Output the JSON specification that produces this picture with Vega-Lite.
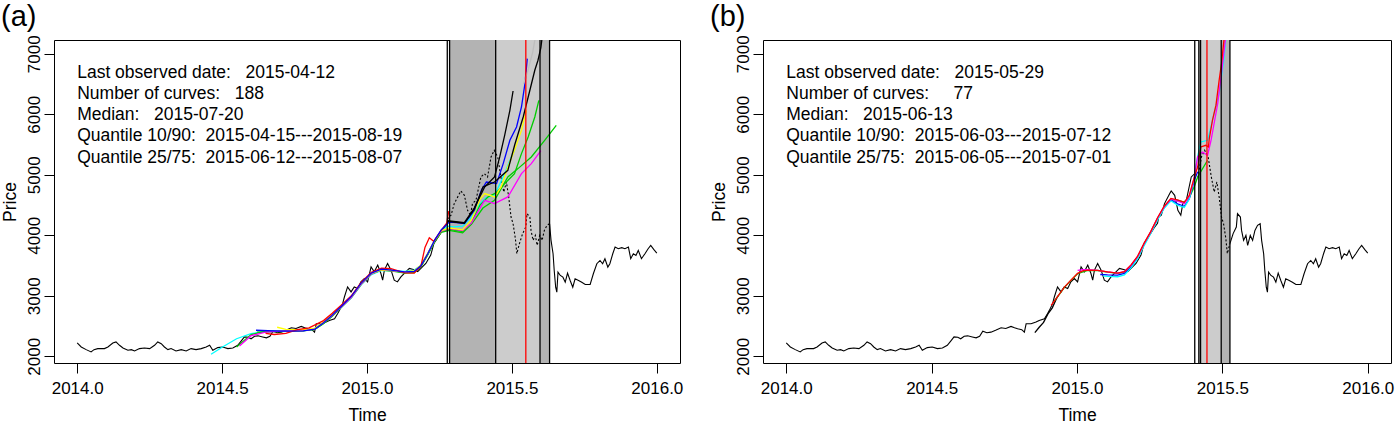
{
"$schema":"https://vega.github.io/schema/vega-lite/v6.json",
"padding":{"left":0,"top":2,"right":0,"bottom":0},
"background":"white",
"bounds":"flush",
"spacing":83,
"config":{"font":"Liberation Sans","view":{"stroke":"black","strokeWidth":1},
"axis":{"grid":false,"domain":false,"tickColor":"black","tickSize":10,"labelColor":"black","labelFontSize":17,"titleFontSize":17.5,"titleFontWeight":"normal","titleColor":"black","labelFont":"Liberation Sans","titleFont":"Liberation Sans","labelFlush":false,"labelOverlap":false}},
"datasets":{
"price":[{"t":2014.000,"p":2220},{"t":2014.014,"p":2154},{"t":2014.031,"p":2110},{"t":2014.048,"p":2072},{"t":2014.058,"p":2110},{"t":2014.071,"p":2127},{"t":2014.094,"p":2127},{"t":2014.106,"p":2154},{"t":2014.123,"p":2220},{"t":2014.134,"p":2237},{"t":2014.146,"p":2182},{"t":2014.158,"p":2138},{"t":2014.175,"p":2099},{"t":2014.187,"p":2110},{"t":2014.198,"p":2088},{"t":2014.215,"p":2127},{"t":2014.232,"p":2138},{"t":2014.250,"p":2127},{"t":2014.267,"p":2182},{"t":2014.278,"p":2237},{"t":2014.290,"p":2209},{"t":2014.301,"p":2154},{"t":2014.313,"p":2110},{"t":2014.324,"p":2127},{"t":2014.341,"p":2088},{"t":2014.359,"p":2110},{"t":2014.376,"p":2088},{"t":2014.393,"p":2127},{"t":2014.410,"p":2110},{"t":2014.428,"p":2127},{"t":2014.445,"p":2154},{"t":2014.457,"p":2182},{"t":2014.468,"p":2099},{"t":2014.485,"p":2143},{"t":2014.502,"p":2154},{"t":2014.520,"p":2127},{"t":2014.537,"p":2138},{"t":2014.554,"p":2182},{"t":2014.567,"p":2260},{"t":2014.577,"p":2320},{"t":2014.590,"p":2316},{"t":2014.600,"p":2290},{"t":2014.612,"p":2330},{"t":2014.624,"p":2338},{"t":2014.640,"p":2320},{"t":2014.653,"p":2305},{"t":2014.665,"p":2330},{"t":2014.676,"p":2415},{"t":2014.690,"p":2390},{"t":2014.704,"p":2399},{"t":2014.720,"p":2430},{"t":2014.739,"p":2471},{"t":2014.755,"p":2460},{"t":2014.773,"p":2493},{"t":2014.785,"p":2470},{"t":2014.796,"p":2454},{"t":2014.810,"p":2440},{"t":2014.819,"p":2399},{"t":2014.825,"p":2537},{"t":2014.842,"p":2537},{"t":2014.859,"p":2565},{"t":2014.870,"p":2593},{"t":2014.888,"p":2620},{"t":2014.899,"p":2706},{"t":2014.905,"p":2759},{"t":2014.916,"p":2870},{"t":2014.922,"p":2980},{"t":2014.933,"p":3147},{"t":2014.945,"p":3064},{"t":2014.956,"p":3147},{"t":2014.968,"p":3119},{"t":2014.979,"p":3230},{"t":2014.991,"p":3285},{"t":2015.002,"p":3230},{"t":2015.014,"p":3479},{"t":2015.025,"p":3396},{"t":2015.037,"p":3507},{"t":2015.048,"p":3368},{"t":2015.054,"p":3258},{"t":2015.060,"p":3424},{"t":2015.071,"p":3535},{"t":2015.083,"p":3424},{"t":2015.094,"p":3258},{"t":2015.105,"p":3230},{"t":2015.117,"p":3313},{"t":2015.134,"p":3396},{"t":2015.146,"p":3452},{"t":2015.163,"p":3430},{"t":2015.175,"p":3400},{"t":2015.186,"p":3452},{"t":2015.203,"p":3535},{"t":2015.220,"p":3673},{"t":2015.231,"p":3867},{"t":2015.243,"p":3950},{"t":2015.254,"p":4033},{"t":2015.265,"p":4120},{"t":2015.277,"p":4199},{"t":2015.281,"p":4302},{"t":2015.290,"p":4331},{"t":2015.301,"p":4524},{"t":2015.319,"p":4689},{"t":2015.324,"p":4733},{"t":2015.336,"p":4661},{"t":2015.347,"p":4413},{"t":2015.357,"p":4331},{"t":2015.364,"p":4524},{"t":2015.376,"p":4579},{"t":2015.393,"p":4964},{"t":2015.405,"p":5019},{"t":2015.416,"p":4964},{"t":2015.428,"p":5295},{"t":2015.439,"p":5405},{"t":2015.451,"p":5295},{"t":2015.462,"p":4964},{"t":2015.472,"p":4715},{"t":2015.481,"p":4881},{"t":2015.489,"p":4632},{"t":2015.497,"p":4302},{"t":2015.504,"p":4192},{"t":2015.512,"p":3944},{"t":2015.517,"p":3697},{"t":2015.526,"p":3863},{"t":2015.537,"p":4028},{"t":2015.548,"p":4137},{"t":2015.552,"p":4357},{"t":2015.562,"p":4301},{"t":2015.566,"p":4081},{"t":2015.573,"p":3916},{"t":2015.581,"p":3998},{"t":2015.587,"p":3833},{"t":2015.596,"p":3998},{"t":2015.604,"p":3916},{"t":2015.612,"p":4081},{"t":2015.621,"p":4164},{"t":2015.630,"p":4192},{"t":2015.635,"p":3916},{"t":2015.642,"p":3695},{"t":2015.646,"p":3419},{"t":2015.651,"p":3142},{"t":2015.655,"p":3060},{"t":2015.659,"p":3391},{"t":2015.667,"p":3336},{"t":2015.676,"p":3308},{"t":2015.684,"p":3225},{"t":2015.692,"p":3374},{"t":2015.701,"p":3253},{"t":2015.710,"p":3142},{"t":2015.718,"p":3281},{"t":2015.730,"p":3253},{"t":2015.741,"p":3225},{"t":2015.753,"p":3187},{"t":2015.770,"p":3187},{"t":2015.781,"p":3364},{"t":2015.793,"p":3530},{"t":2015.804,"p":3584},{"t":2015.813,"p":3530},{"t":2015.821,"p":3613},{"t":2015.831,"p":3474},{"t":2015.838,"p":3530},{"t":2015.848,"p":3695},{"t":2015.856,"p":3805},{"t":2015.867,"p":3778},{"t":2015.879,"p":3795},{"t":2015.890,"p":3778},{"t":2015.902,"p":3805},{"t":2015.910,"p":3613},{"t":2015.919,"p":3695},{"t":2015.928,"p":3667},{"t":2015.936,"p":3750},{"t":2015.947,"p":3613},{"t":2015.959,"p":3695},{"t":2015.970,"p":3778},{"t":2015.979,"p":3833},{"t":2015.990,"p":3762},{"t":2016.000,"p":3705}],
"bands":[{"panel":"a","kind":"q1090","t":2015.285,"t2":2015.630},{"panel":"a","kind":"q2575","t":2015.444,"t2":2015.597},{"panel":"b","kind":"q1090","t":2015.419,"t2":2015.526},{"panel":"b","kind":"q2575","t":2015.425,"t2":2015.496}],
"lines":[{"panel":"a","kind":"last","t":2015.277},{"panel":"a","kind":"q","t":2015.285},{"panel":"a","kind":"q","t":2015.444},{"panel":"a","kind":"q","t":2015.597},{"panel":"a","kind":"q","t":2015.630},{"panel":"a","kind":"median","t":2015.548},{"panel":"b","kind":"last","t":2015.405},{"panel":"b","kind":"q","t":2015.419},{"panel":"b","kind":"q","t":2015.425},{"panel":"b","kind":"q","t":2015.496},{"panel":"b","kind":"q","t":2015.526},{"panel":"b","kind":"median","t":2015.447}],
"notes":[{"panel":"a","t":2014,"p":6607,"label":"Last observed date:\u00a0\u00a0\u00a02015-04-12"},{"panel":"a","t":2014,"p":6260,"label":"Number of curves:\u00a0\u00a0\u00a0188"},{"panel":"a","t":2014,"p":5909,"label":"Median:\u00a0\u00a0\u00a02015-07-20"},{"panel":"a","t":2014,"p":5554,"label":"Quantile 10/90:\u00a0\u00a02015-04-15---2015-08-19"},{"panel":"a","t":2014,"p":5198,"label":"Quantile 25/75:\u00a0\u00a02015-06-12---2015-08-07"},{"panel":"b","t":2014,"p":6607,"label":"Last observed date:\u00a0\u00a0\u00a02015-05-29"},{"panel":"b","t":2014,"p":6260,"label":"Number of curves:\u00a0\u00a0\u00a0\u00a0\u00a077"},{"panel":"b","t":2014,"p":5909,"label":"Median:\u00a0\u00a0\u00a02015-06-13"},{"panel":"b","t":2014,"p":5554,"label":"Quantile 10/90:\u00a0\u00a02015-06-03---2015-07-12"},{"panel":"b","t":2014,"p":5198,"label":"Quantile 25/75:\u00a0\u00a02015-06-05---2015-07-01"}],
"curvesA":[
{"id":"a-cyan","col":"cyan","t":2014.462,"p":2033},{"id":"a-cyan","col":"cyan","t":2014.50,"p":2150},{"id":"a-cyan","col":"cyan","t":2014.55,"p":2290},{"id":"a-cyan","col":"cyan","t":2014.60,"p":2375},{"id":"a-cyan","col":"cyan","t":2014.65,"p":2410},{"id":"a-cyan","col":"cyan","t":2014.70,"p":2420},{"id":"a-cyan","col":"cyan","t":2014.78,"p":2425},{"id":"a-cyan","col":"cyan","t":2014.82,"p":2450},{"id":"a-cyan","col":"cyan","t":2014.85,"p":2545},{"id":"a-cyan","col":"cyan","t":2014.88,"p":2665},{"id":"a-cyan","col":"cyan","t":2014.91,"p":2800},{"id":"a-cyan","col":"cyan","t":2014.946,"p":2965},{"id":"a-cyan","col":"cyan","t":2014.98,"p":3180},{"id":"a-cyan","col":"cyan","t":2015.015,"p":3350},{"id":"a-cyan","col":"cyan","t":2015.05,"p":3420},{"id":"a-cyan","col":"cyan","t":2015.083,"p":3415},{"id":"a-cyan","col":"cyan","t":2015.13,"p":3405},{"id":"a-cyan","col":"cyan","t":2015.163,"p":3425},{"id":"a-cyan","col":"cyan","t":2015.186,"p":3505},{"id":"a-cyan","col":"cyan","t":2015.209,"p":3690},{"id":"a-cyan","col":"cyan","t":2015.233,"p":3905},{"id":"a-cyan","col":"cyan","t":2015.256,"p":4065},{"id":"a-cyan","col":"cyan","t":2015.278,"p":4150},{"id":"a-cyan","col":"cyan","t":2015.30,"p":4140},{"id":"a-cyan","col":"cyan","t":2015.33,"p":4150},{"id":"a-cyan","col":"cyan","t":2015.36,"p":4300},{"id":"a-cyan","col":"cyan","t":2015.39,"p":4520},{"id":"a-cyan","col":"cyan","t":2015.41,"p":4620},{"id":"a-cyan","col":"cyan","t":2015.44,"p":4661},{"id":"a-cyan","col":"cyan","t":2015.475,"p":5019},{"id":"a-cyan","col":"cyan","t":2015.493,"p":5240},{"id":"a-cyan","col":"cyan","t":2015.51,"p":5420},
{"id":"a-green1","col":"green3","t":2014.55,"p":2154},{"id":"a-green1","col":"green3","t":2014.60,"p":2360},{"id":"a-green1","col":"green3","t":2014.65,"p":2410},{"id":"a-green1","col":"green3","t":2014.70,"p":2415},{"id":"a-green1","col":"green3","t":2014.78,"p":2425},{"id":"a-green1","col":"green3","t":2014.82,"p":2450},{"id":"a-green1","col":"green3","t":2014.85,"p":2550},{"id":"a-green1","col":"green3","t":2014.88,"p":2675},{"id":"a-green1","col":"green3","t":2014.91,"p":2815},{"id":"a-green1","col":"green3","t":2014.946,"p":2985},{"id":"a-green1","col":"green3","t":2014.98,"p":3205},{"id":"a-green1","col":"green3","t":2015.015,"p":3370},{"id":"a-green1","col":"green3","t":2015.05,"p":3435},{"id":"a-green1","col":"green3","t":2015.083,"p":3420},{"id":"a-green1","col":"green3","t":2015.13,"p":3385},{"id":"a-green1","col":"green3","t":2015.163,"p":3395},{"id":"a-green1","col":"green3","t":2015.186,"p":3490},{"id":"a-green1","col":"green3","t":2015.209,"p":3680},{"id":"a-green1","col":"green3","t":2015.233,"p":3900},{"id":"a-green1","col":"green3","t":2015.256,"p":4060},{"id":"a-green1","col":"green3","t":2015.284,"p":4100},{"id":"a-green1","col":"green3","t":2015.33,"p":4060},{"id":"a-green1","col":"green3","t":2015.36,"p":4200},{"id":"a-green1","col":"green3","t":2015.39,"p":4500},{"id":"a-green1","col":"green3","t":2015.417,"p":4634},{"id":"a-green1","col":"green3","t":2015.445,"p":4700},{"id":"a-green1","col":"green3","t":2015.475,"p":4854},{"id":"a-green1","col":"green3","t":2015.509,"p":5019},{"id":"a-green1","col":"green3","t":2015.533,"p":5350},{"id":"a-green1","col":"green3","t":2015.556,"p":5626},{"id":"a-green1","col":"green3","t":2015.579,"p":5956},{"id":"a-green1","col":"green3","t":2015.593,"p":6231},
{"id":"a-green2","col":"green3","t":2014.62,"p":2400},{"id":"a-green2","col":"green3","t":2014.70,"p":2410},{"id":"a-green2","col":"green3","t":2014.78,"p":2420},{"id":"a-green2","col":"green3","t":2014.82,"p":2445},{"id":"a-green2","col":"green3","t":2014.85,"p":2540},{"id":"a-green2","col":"green3","t":2014.88,"p":2660},{"id":"a-green2","col":"green3","t":2014.91,"p":2800},{"id":"a-green2","col":"green3","t":2014.946,"p":2970},{"id":"a-green2","col":"green3","t":2014.98,"p":3190},{"id":"a-green2","col":"green3","t":2015.015,"p":3360},{"id":"a-green2","col":"green3","t":2015.05,"p":3425},{"id":"a-green2","col":"green3","t":2015.083,"p":3410},{"id":"a-green2","col":"green3","t":2015.13,"p":3375},{"id":"a-green2","col":"green3","t":2015.163,"p":3385},{"id":"a-green2","col":"green3","t":2015.186,"p":3480},{"id":"a-green2","col":"green3","t":2015.209,"p":3670},{"id":"a-green2","col":"green3","t":2015.233,"p":3890},{"id":"a-green2","col":"green3","t":2015.256,"p":4050},{"id":"a-green2","col":"green3","t":2015.284,"p":4080},{"id":"a-green2","col":"green3","t":2015.33,"p":4040},{"id":"a-green2","col":"green3","t":2015.36,"p":4180},{"id":"a-green2","col":"green3","t":2015.40,"p":4450},{"id":"a-green2","col":"green3","t":2015.44,"p":4579},{"id":"a-green2","col":"green3","t":2015.486,"p":4964},{"id":"a-green2","col":"green3","t":2015.521,"p":5102},{"id":"a-green2","col":"green3","t":2015.567,"p":5295},{"id":"a-green2","col":"green3","t":2015.613,"p":5570},{"id":"a-green2","col":"green3","t":2015.653,"p":5818},
{"id":"a-magenta","col":"magenta","t":2014.56,"p":2170},{"id":"a-magenta","col":"magenta","t":2014.60,"p":2340},{"id":"a-magenta","col":"magenta","t":2014.65,"p":2400},{"id":"a-magenta","col":"magenta","t":2014.70,"p":2415},{"id":"a-magenta","col":"magenta","t":2014.78,"p":2425},{"id":"a-magenta","col":"magenta","t":2014.82,"p":2455},{"id":"a-magenta","col":"magenta","t":2014.85,"p":2555},{"id":"a-magenta","col":"magenta","t":2014.88,"p":2675},{"id":"a-magenta","col":"magenta","t":2014.91,"p":2810},{"id":"a-magenta","col":"magenta","t":2014.946,"p":2975},{"id":"a-magenta","col":"magenta","t":2014.98,"p":3195},{"id":"a-magenta","col":"magenta","t":2015.015,"p":3362},{"id":"a-magenta","col":"magenta","t":2015.05,"p":3430},{"id":"a-magenta","col":"magenta","t":2015.083,"p":3418},{"id":"a-magenta","col":"magenta","t":2015.13,"p":3390},{"id":"a-magenta","col":"magenta","t":2015.163,"p":3405},{"id":"a-magenta","col":"magenta","t":2015.186,"p":3500},{"id":"a-magenta","col":"magenta","t":2015.209,"p":3690},{"id":"a-magenta","col":"magenta","t":2015.233,"p":3910},{"id":"a-magenta","col":"magenta","t":2015.256,"p":4070},{"id":"a-magenta","col":"magenta","t":2015.284,"p":4110},{"id":"a-magenta","col":"magenta","t":2015.33,"p":4080},{"id":"a-magenta","col":"magenta","t":2015.36,"p":4200},{"id":"a-magenta","col":"magenta","t":2015.39,"p":4450},{"id":"a-magenta","col":"magenta","t":2015.406,"p":4579},{"id":"a-magenta","col":"magenta","t":2015.44,"p":4524},{"id":"a-magenta","col":"magenta","t":2015.486,"p":4634},{"id":"a-magenta","col":"magenta","t":2015.533,"p":5019},{"id":"a-magenta","col":"magenta","t":2015.567,"p":5185},{"id":"a-magenta","col":"magenta","t":2015.60,"p":5400},
{"id":"a-yellow","col":"yellow","t":2014.69,"p":2480},{"id":"a-yellow","col":"yellow","t":2014.72,"p":2445},{"id":"a-yellow","col":"yellow","t":2014.78,"p":2440},{"id":"a-yellow","col":"yellow","t":2014.82,"p":2465},{"id":"a-yellow","col":"yellow","t":2014.85,"p":2565},{"id":"a-yellow","col":"yellow","t":2014.88,"p":2690},{"id":"a-yellow","col":"yellow","t":2014.91,"p":2825},{"id":"a-yellow","col":"yellow","t":2014.946,"p":2990},{"id":"a-yellow","col":"yellow","t":2014.98,"p":3205},{"id":"a-yellow","col":"yellow","t":2015.015,"p":3370},{"id":"a-yellow","col":"yellow","t":2015.05,"p":3430},{"id":"a-yellow","col":"yellow","t":2015.083,"p":3420},{"id":"a-yellow","col":"yellow","t":2015.13,"p":3395},{"id":"a-yellow","col":"yellow","t":2015.163,"p":3415},{"id":"a-yellow","col":"yellow","t":2015.186,"p":3510},{"id":"a-yellow","col":"yellow","t":2015.209,"p":3700},{"id":"a-yellow","col":"yellow","t":2015.233,"p":3915},{"id":"a-yellow","col":"yellow","t":2015.256,"p":4075},{"id":"a-yellow","col":"yellow","t":2015.284,"p":4120},{"id":"a-yellow","col":"yellow","t":2015.33,"p":4090},{"id":"a-yellow","col":"yellow","t":2015.36,"p":4250},{"id":"a-yellow","col":"yellow","t":2015.39,"p":4600},{"id":"a-yellow","col":"yellow","t":2015.406,"p":4689},{"id":"a-yellow","col":"yellow","t":2015.44,"p":4634},{"id":"a-yellow","col":"yellow","t":2015.463,"p":4799},{"id":"a-yellow","col":"yellow","t":2015.486,"p":5130},{"id":"a-yellow","col":"yellow","t":2015.509,"p":5405},{"id":"a-yellow","col":"yellow","t":2015.533,"p":5736},{"id":"a-yellow","col":"yellow","t":2015.55,"p":6066},
{"id":"a-red","col":"red","t":2014.65,"p":2380},{"id":"a-red","col":"red","t":2014.68,"p":2360},{"id":"a-red","col":"red","t":2014.72,"p":2380},{"id":"a-red","col":"red","t":2014.76,"p":2440},{"id":"a-red","col":"red","t":2014.80,"p":2470},{"id":"a-red","col":"red","t":2014.85,"p":2590},{"id":"a-red","col":"red","t":2014.88,"p":2710},{"id":"a-red","col":"red","t":2014.91,"p":2840},{"id":"a-red","col":"red","t":2014.946,"p":3000},{"id":"a-red","col":"red","t":2014.98,"p":3220},{"id":"a-red","col":"red","t":2015.015,"p":3390},{"id":"a-red","col":"red","t":2015.05,"p":3455},{"id":"a-red","col":"red","t":2015.083,"p":3450},{"id":"a-red","col":"red","t":2015.13,"p":3380},{"id":"a-red","col":"red","t":2015.163,"p":3375},{"id":"a-red","col":"red","t":2015.186,"p":3490},{"id":"a-red","col":"red","t":2015.20,"p":3800},{"id":"a-red","col":"red","t":2015.215,"p":3960},{"id":"a-red","col":"red","t":2015.23,"p":3900},{"id":"a-red","col":"red","t":2015.256,"p":4080},{"id":"a-red","col":"red","t":2015.275,"p":4200},{"id":"a-red","col":"red","t":2015.282,"p":4400},
{"id":"a-blue","col":"blue","t":2014.617,"p":2430},{"id":"a-blue","col":"blue","t":2014.70,"p":2415},{"id":"a-blue","col":"blue","t":2014.78,"p":2420},{"id":"a-blue","col":"blue","t":2014.82,"p":2450},{"id":"a-blue","col":"blue","t":2014.85,"p":2555},{"id":"a-blue","col":"blue","t":2014.88,"p":2680},{"id":"a-blue","col":"blue","t":2014.91,"p":2820},{"id":"a-blue","col":"blue","t":2014.946,"p":2990},{"id":"a-blue","col":"blue","t":2014.98,"p":3210},{"id":"a-blue","col":"blue","t":2015.015,"p":3375},{"id":"a-blue","col":"blue","t":2015.05,"p":3440},{"id":"a-blue","col":"blue","t":2015.083,"p":3425},{"id":"a-blue","col":"blue","t":2015.13,"p":3395},{"id":"a-blue","col":"blue","t":2015.163,"p":3405},{"id":"a-blue","col":"blue","t":2015.186,"p":3495},{"id":"a-blue","col":"blue","t":2015.209,"p":3690},{"id":"a-blue","col":"blue","t":2015.233,"p":3915},{"id":"a-blue","col":"blue","t":2015.256,"p":4090},{"id":"a-blue","col":"blue","t":2015.284,"p":4220},{"id":"a-blue","col":"blue","t":2015.31,"p":4210},{"id":"a-blue","col":"blue","t":2015.336,"p":4193},{"id":"a-blue","col":"blue","t":2015.371,"p":4413},{"id":"a-blue","col":"blue","t":2015.395,"p":4750},{"id":"a-blue","col":"blue","t":2015.412,"p":4881},{"id":"a-blue","col":"blue","t":2015.447,"p":4854},{"id":"a-blue","col":"blue","t":2015.47,"p":5185},{"id":"a-blue","col":"blue","t":2015.493,"p":5570},{"id":"a-blue","col":"blue","t":2015.516,"p":5791},{"id":"a-blue","col":"blue","t":2015.533,"p":6121},{"id":"a-blue","col":"blue","t":2015.545,"p":6507},{"id":"a-blue","col":"blue","t":2015.553,"p":6920},
{"id":"a-black1","col":"black","t":2015.278,"p":4240},{"id":"a-black1","col":"black","t":2015.336,"p":4210},{"id":"a-black1","col":"black","t":2015.37,"p":4450},{"id":"a-black1","col":"black","t":2015.406,"p":4799},{"id":"a-black1","col":"black","t":2015.44,"p":4964},{"id":"a-black1","col":"black","t":2015.458,"p":5295},{"id":"a-black1","col":"black","t":2015.475,"p":5653},{"id":"a-black1","col":"black","t":2015.493,"p":6066},{"id":"a-black1","col":"black","t":2015.504,"p":6385},
{"id":"a-black2","col":"black","t":2015.278,"p":4230},{"id":"a-black2","col":"black","t":2015.336,"p":4200},{"id":"a-black2","col":"black","t":2015.37,"p":4430},{"id":"a-black2","col":"black","t":2015.40,"p":4800},{"id":"a-black2","col":"black","t":2015.44,"p":4881},{"id":"a-black2","col":"black","t":2015.486,"p":5074},{"id":"a-black2","col":"black","t":2015.51,"p":5500},{"id":"a-black2","col":"black","t":2015.539,"p":5956},{"id":"a-black2","col":"black","t":2015.562,"p":6397},{"id":"a-black2","col":"black","t":2015.579,"p":6728},{"id":"a-black2","col":"black","t":2015.59,"p":6893},{"id":"a-black2","col":"black","t":2015.60,"p":7100},{"id":"a-black2","col":"black","t":2015.605,"p":7300},
{"id":"a-gray","col":"gray","t":2015.54,"p":6500},{"id":"a-gray","col":"gray","t":2015.555,"p":6720},{"id":"a-gray","col":"gray","t":2015.572,"p":7030},{"id":"a-gray","col":"gray","t":2015.58,"p":7250}],
"curvesB":[
{"id":"b-black","col":"black","t":2014.855,"p":2390},{"id":"b-black","col":"black","t":2014.87,"p":2480},{"id":"b-black","col":"black","t":2014.885,"p":2560},{"id":"b-black","col":"black","t":2014.90,"p":2700},{"id":"b-black","col":"black","t":2014.915,"p":2800},{"id":"b-black","col":"black","t":2014.93,"p":2960},{"id":"b-black","col":"black","t":2014.935,"p":3000},
{"id":"b-green","col":"green3","t":2014.92,"p":2900},{"id":"b-green","col":"green3","t":2014.935,"p":2995},{"id":"b-green","col":"green3","t":2014.956,"p":3135},{"id":"b-green","col":"green3","t":2014.979,"p":3255},{"id":"b-green","col":"green3","t":2015.002,"p":3365},{"id":"b-green","col":"green3","t":2015.037,"p":3418},{"id":"b-green","col":"green3","t":2015.071,"p":3418},{"id":"b-green","col":"green3","t":2015.105,"p":3392},{"id":"b-green","col":"green3","t":2015.14,"p":3372},{"id":"b-green","col":"green3","t":2015.163,"p":3392},{"id":"b-green","col":"green3","t":2015.186,"p":3500},{"id":"b-green","col":"green3","t":2015.208,"p":3640},{"id":"b-green","col":"green3","t":2015.231,"p":3860},{"id":"b-green","col":"green3","t":2015.254,"p":4055},{"id":"b-green","col":"green3","t":2015.277,"p":4275},{"id":"b-green","col":"green3","t":2015.30,"p":4470},{"id":"b-green","col":"green3","t":2015.323,"p":4595},{"id":"b-green","col":"green3","t":2015.346,"p":4575},{"id":"b-green","col":"green3","t":2015.369,"p":4550},{"id":"b-green","col":"green3","t":2015.386,"p":4620},{"id":"b-green","col":"green3","t":2015.403,"p":4800},{"id":"b-green","col":"green3","t":2015.415,"p":4964},{"id":"b-green","col":"green3","t":2015.449,"p":5240},
{"id":"b-blue","col":"blue","t":2015.08,"p":3352},{"id":"b-blue","col":"blue","t":2015.105,"p":3345},{"id":"b-blue","col":"blue","t":2015.14,"p":3340},{"id":"b-blue","col":"blue","t":2015.163,"p":3370},{"id":"b-blue","col":"blue","t":2015.186,"p":3480},{"id":"b-blue","col":"blue","t":2015.208,"p":3630},{"id":"b-blue","col":"blue","t":2015.231,"p":3850},{"id":"b-blue","col":"blue","t":2015.254,"p":4050},{"id":"b-blue","col":"blue","t":2015.277,"p":4270},{"id":"b-blue","col":"blue","t":2015.30,"p":4460},{"id":"b-blue","col":"blue","t":2015.323,"p":4585},{"id":"b-blue","col":"blue","t":2015.346,"p":4520},{"id":"b-blue","col":"blue","t":2015.369,"p":4480},{"id":"b-blue","col":"blue","t":2015.386,"p":4600},{"id":"b-blue","col":"blue","t":2015.403,"p":4900},{"id":"b-blue","col":"blue","t":2015.415,"p":5050},
{"id":"b-cyan","col":"cyan","t":2015.09,"p":3330},{"id":"b-cyan","col":"cyan","t":2015.105,"p":3320},{"id":"b-cyan","col":"cyan","t":2015.14,"p":3315},{"id":"b-cyan","col":"cyan","t":2015.163,"p":3345},{"id":"b-cyan","col":"cyan","t":2015.186,"p":3460},{"id":"b-cyan","col":"cyan","t":2015.208,"p":3610},{"id":"b-cyan","col":"cyan","t":2015.231,"p":3830},{"id":"b-cyan","col":"cyan","t":2015.254,"p":4035},{"id":"b-cyan","col":"cyan","t":2015.277,"p":4255},{"id":"b-cyan","col":"cyan","t":2015.30,"p":4450},{"id":"b-cyan","col":"cyan","t":2015.323,"p":4570},{"id":"b-cyan","col":"cyan","t":2015.346,"p":4500},{"id":"b-cyan","col":"cyan","t":2015.369,"p":4460},{"id":"b-cyan","col":"cyan","t":2015.386,"p":4600},{"id":"b-cyan","col":"cyan","t":2015.403,"p":4950},{"id":"b-cyan","col":"cyan","t":2015.415,"p":5300},{"id":"b-cyan","col":"cyan","t":2015.426,"p":5543},{"id":"b-cyan","col":"cyan","t":2015.449,"p":5570},{"id":"b-cyan","col":"cyan","t":2015.472,"p":6015},{"id":"b-cyan","col":"cyan","t":2015.489,"p":6345},{"id":"b-cyan","col":"cyan","t":2015.495,"p":6565},{"id":"b-cyan","col":"cyan","t":2015.505,"p":6900},{"id":"b-cyan","col":"cyan","t":2015.513,"p":7300},
{"id":"b-magenta","col":"magenta","t":2015.002,"p":3420},{"id":"b-magenta","col":"magenta","t":2015.02,"p":3430},{"id":"b-magenta","col":"magenta","t":2015.037,"p":3430},{"id":"b-magenta","col":"magenta","t":2015.071,"p":3420},{"id":"b-magenta","col":"magenta","t":2015.105,"p":3395},{"id":"b-magenta","col":"magenta","t":2015.14,"p":3375},{"id":"b-magenta","col":"magenta","t":2015.163,"p":3400},{"id":"b-magenta","col":"magenta","t":2015.186,"p":3505},{"id":"b-magenta","col":"magenta","t":2015.208,"p":3645},{"id":"b-magenta","col":"magenta","t":2015.231,"p":3865},{"id":"b-magenta","col":"magenta","t":2015.254,"p":4060},{"id":"b-magenta","col":"magenta","t":2015.277,"p":4285},{"id":"b-magenta","col":"magenta","t":2015.30,"p":4475},{"id":"b-magenta","col":"magenta","t":2015.323,"p":4600},{"id":"b-magenta","col":"magenta","t":2015.346,"p":4565},{"id":"b-magenta","col":"magenta","t":2015.369,"p":4525},{"id":"b-magenta","col":"magenta","t":2015.386,"p":4640},{"id":"b-magenta","col":"magenta","t":2015.403,"p":4950},{"id":"b-magenta","col":"magenta","t":2015.415,"p":5300},{"id":"b-magenta","col":"magenta","t":2015.432,"p":5377},{"id":"b-magenta","col":"magenta","t":2015.449,"p":5322},{"id":"b-magenta","col":"magenta","t":2015.461,"p":5570},{"id":"b-magenta","col":"magenta","t":2015.484,"p":6178},{"id":"b-magenta","col":"magenta","t":2015.495,"p":6600},{"id":"b-magenta","col":"magenta","t":2015.505,"p":7000},{"id":"b-magenta","col":"magenta","t":2015.512,"p":7300},
{"id":"b-red","col":"red","t":2014.911,"p":2842},{"id":"b-red","col":"red","t":2014.935,"p":3000},{"id":"b-red","col":"red","t":2014.956,"p":3140},{"id":"b-red","col":"red","t":2014.979,"p":3258},{"id":"b-red","col":"red","t":2015.002,"p":3370},{"id":"b-red","col":"red","t":2015.02,"p":3410},{"id":"b-red","col":"red","t":2015.037,"p":3425},{"id":"b-red","col":"red","t":2015.071,"p":3420},{"id":"b-red","col":"red","t":2015.105,"p":3395},{"id":"b-red","col":"red","t":2015.14,"p":3375},{"id":"b-red","col":"red","t":2015.163,"p":3400},{"id":"b-red","col":"red","t":2015.186,"p":3510},{"id":"b-red","col":"red","t":2015.208,"p":3650},{"id":"b-red","col":"red","t":2015.231,"p":3870},{"id":"b-red","col":"red","t":2015.254,"p":4065},{"id":"b-red","col":"red","t":2015.277,"p":4290},{"id":"b-red","col":"red","t":2015.30,"p":4480},{"id":"b-red","col":"red","t":2015.323,"p":4610},{"id":"b-red","col":"red","t":2015.346,"p":4585},{"id":"b-red","col":"red","t":2015.369,"p":4545},{"id":"b-red","col":"red","t":2015.386,"p":4660},{"id":"b-red","col":"red","t":2015.403,"p":4950},{"id":"b-red","col":"red","t":2015.415,"p":5129},{"id":"b-red","col":"red","t":2015.426,"p":5460},{"id":"b-red","col":"red","t":2015.443,"p":5488},{"id":"b-red","col":"red","t":2015.452,"p":5460},{"id":"b-red","col":"red","t":2015.455,"p":5599},{"id":"b-red","col":"red","t":2015.466,"p":5902},{"id":"b-red","col":"red","t":2015.478,"p":6151},{"id":"b-red","col":"red","t":2015.489,"p":6565},{"id":"b-red","col":"red","t":2015.497,"p":6841},{"id":"b-red","col":"red","t":2015.507,"p":7300}]
},
"hconcat":[
{"width":626,"height":323,
"title":{"text":"(a)","anchor":"start","frame":"bounds","fontSize":29,"fontWeight":"normal","font":"Liberation Sans","color":"black","baseline":"alphabetic","offset":-20},
"layer":[
{"data":{"name":"bands"},"transform":[{"filter":"datum.panel=='a' && datum.kind=='q1090'"}],"mark":{"type":"rect","fill":"#B3B3B3"},"encoding":{"x":{"field":"t","type":"quantitative","scale":{"domain":[2013.92,2016.08],"nice":false,"zero":false},"axis":{"title":"Time","values":[2014,2014.5,2015,2015.5,2016],"format":".1f","labelPadding":7.5,"titlePadding":9.7}},"x2":{"field":"t2"}}},
{"data":{"name":"bands"},"transform":[{"filter":"datum.panel=='a' && datum.kind=='q2575'"}],"mark":{"type":"rect","fill":"#CCCCCC"},"encoding":{"x":{"field":"t","type":"quantitative","scale":{"domain":[2013.92,2016.08],"nice":false,"zero":false},"axis":{"title":"Time","values":[2014,2014.5,2015,2015.5,2016],"format":".1f","labelPadding":7.5,"titlePadding":9.7}},"x2":{"field":"t2"}}},
{"data":{"name":"price"},"transform":[{"filter":"datum.t <= 2015.277"}],"mark":{"type":"line","color":"black","strokeWidth":1.1},"encoding":{"x":{"field":"t","type":"quantitative","scale":{"domain":[2013.92,2016.08],"nice":false,"zero":false},"axis":{"title":"Time","values":[2014,2014.5,2015,2015.5,2016],"format":".1f","labelPadding":7.5,"titlePadding":9.7}},"y":{"field":"p","type":"quantitative","scale":{"domain":[1889,7228],"nice":false,"zero":false},"axis":{"title":"Price","values":[2000,3000,4000,5000,6000,7000],"format":"d","labelAngle":-90,"labelAlign":"center","labelBaseline":"bottom","labelPadding":1,"titlePadding":6}}}},
{"data":{"name":"price"},"transform":[{"filter":"datum.t >= 2015.277 && datum.t <= 2015.630"}],"mark":{"type":"line","color":"black","strokeWidth":1.1,"strokeDash":[2,2]},"encoding":{"x":{"field":"t","type":"quantitative","scale":{"domain":[2013.92,2016.08],"nice":false,"zero":false},"axis":{"title":"Time","values":[2014,2014.5,2015,2015.5,2016],"format":".1f","labelPadding":7.5,"titlePadding":9.7}},"y":{"field":"p","type":"quantitative","scale":{"domain":[1889,7228],"nice":false,"zero":false},"axis":{"title":"Price","values":[2000,3000,4000,5000,6000,7000],"format":"d","labelAngle":-90,"labelAlign":"center","labelBaseline":"bottom","labelPadding":1,"titlePadding":6}}}},
{"data":{"name":"price"},"transform":[{"filter":"datum.t >= 2015.630"}],"mark":{"type":"line","color":"black","strokeWidth":1.1},"encoding":{"x":{"field":"t","type":"quantitative","scale":{"domain":[2013.92,2016.08],"nice":false,"zero":false},"axis":{"title":"Time","values":[2014,2014.5,2015,2015.5,2016],"format":".1f","labelPadding":7.5,"titlePadding":9.7}},"y":{"field":"p","type":"quantitative","scale":{"domain":[1889,7228],"nice":false,"zero":false},"axis":{"title":"Price","values":[2000,3000,4000,5000,6000,7000],"format":"d","labelAngle":-90,"labelAlign":"center","labelBaseline":"bottom","labelPadding":1,"titlePadding":6}}}},
{"data":{"name":"curvesA"},"mark":{"type":"line","strokeWidth":1.3,"clip":true},"encoding":{"x":{"field":"t","type":"quantitative","scale":{"domain":[2013.92,2016.08],"nice":false,"zero":false},"axis":{"title":"Time","values":[2014,2014.5,2015,2015.5,2016],"format":".1f","labelPadding":7.5,"titlePadding":9.7}},"y":{"field":"p","type":"quantitative","scale":{"domain":[1889,7228],"nice":false,"zero":false},"axis":{"title":"Price","values":[2000,3000,4000,5000,6000,7000],"format":"d","labelAngle":-90,"labelAlign":"center","labelBaseline":"bottom","labelPadding":1,"titlePadding":6}},"detail":{"field":"id"},"color":{"field":"col","type":"nominal","scale":{"domain":["black","red","green3","blue","cyan","magenta","yellow","gray"],"range":["#000000","#FF0000","#00CD00","#0000FF","#00FFFF","#FF00FF","#FFFF00","#BEBEBE"]},"legend":null}}},
{"data":{"name":"lines"},"transform":[{"filter":"datum.panel=='a' && datum.kind!='median'"}],"mark":{"type":"rule","color":"black","strokeWidth":1.3},"encoding":{"x":{"field":"t","type":"quantitative","scale":{"domain":[2013.92,2016.08],"nice":false,"zero":false},"axis":{"title":"Time","values":[2014,2014.5,2015,2015.5,2016],"format":".1f","labelPadding":7.5,"titlePadding":9.7}}}},
{"data":{"name":"lines"},"transform":[{"filter":"datum.panel=='a' && datum.kind=='median'"}],"mark":{"type":"rule","color":"#FF0000","strokeWidth":1.3},"encoding":{"x":{"field":"t","type":"quantitative","scale":{"domain":[2013.92,2016.08],"nice":false,"zero":false},"axis":{"title":"Time","values":[2014,2014.5,2015,2015.5,2016],"format":".1f","labelPadding":7.5,"titlePadding":9.7}}}},
{"data":{"name":"notes"},"transform":[{"filter":"datum.panel=='a'"}],"mark":{"type":"text","align":"left","baseline":"alphabetic","fontSize":17.5,"font":"Liberation Sans","color":"black"},"encoding":{"x":{"field":"t","type":"quantitative","scale":{"domain":[2013.92,2016.08],"nice":false,"zero":false},"axis":{"title":"Time","values":[2014,2014.5,2015,2015.5,2016],"format":".1f","labelPadding":7.5,"titlePadding":9.7}},"y":{"field":"p","type":"quantitative","scale":{"domain":[1889,7228],"nice":false,"zero":false},"axis":{"title":"Price","values":[2000,3000,4000,5000,6000,7000],"format":"d","labelAngle":-90,"labelAlign":"center","labelBaseline":"bottom","labelPadding":1,"titlePadding":6}},"text":{"field":"label"}}}
]},
{"width":628,"height":323,
"title":{"text":"(b)","anchor":"start","frame":"bounds","fontSize":29,"fontWeight":"normal","font":"Liberation Sans","color":"black","baseline":"alphabetic","offset":-20},
"layer":[
{"data":{"name":"bands"},"transform":[{"filter":"datum.panel=='b' && datum.kind=='q1090'"}],"mark":{"type":"rect","fill":"#B3B3B3"},"encoding":{"x":{"field":"t","type":"quantitative","scale":{"domain":[2013.92,2016.08],"nice":false,"zero":false},"axis":{"title":"Time","values":[2014,2014.5,2015,2015.5,2016],"format":".1f","labelPadding":7.5,"titlePadding":9.7}},"x2":{"field":"t2"}}},
{"data":{"name":"bands"},"transform":[{"filter":"datum.panel=='b' && datum.kind=='q2575'"}],"mark":{"type":"rect","fill":"#CCCCCC"},"encoding":{"x":{"field":"t","type":"quantitative","scale":{"domain":[2013.92,2016.08],"nice":false,"zero":false},"axis":{"title":"Time","values":[2014,2014.5,2015,2015.5,2016],"format":".1f","labelPadding":7.5,"titlePadding":9.7}},"x2":{"field":"t2"}}},
{"data":{"name":"price"},"transform":[{"filter":"datum.t <= 2015.405"}],"mark":{"type":"line","color":"black","strokeWidth":1.1},"encoding":{"x":{"field":"t","type":"quantitative","scale":{"domain":[2013.92,2016.08],"nice":false,"zero":false},"axis":{"title":"Time","values":[2014,2014.5,2015,2015.5,2016],"format":".1f","labelPadding":7.5,"titlePadding":9.7}},"y":{"field":"p","type":"quantitative","scale":{"domain":[1889,7228],"nice":false,"zero":false},"axis":{"title":"Price","values":[2000,3000,4000,5000,6000,7000],"format":"d","labelAngle":-90,"labelAlign":"center","labelBaseline":"bottom","labelPadding":1,"titlePadding":6}}}},
{"data":{"name":"price"},"transform":[{"filter":"datum.t >= 2015.405 && datum.t <= 2015.526"}],"mark":{"type":"line","color":"black","strokeWidth":1.1,"strokeDash":[2,2]},"encoding":{"x":{"field":"t","type":"quantitative","scale":{"domain":[2013.92,2016.08],"nice":false,"zero":false},"axis":{"title":"Time","values":[2014,2014.5,2015,2015.5,2016],"format":".1f","labelPadding":7.5,"titlePadding":9.7}},"y":{"field":"p","type":"quantitative","scale":{"domain":[1889,7228],"nice":false,"zero":false},"axis":{"title":"Price","values":[2000,3000,4000,5000,6000,7000],"format":"d","labelAngle":-90,"labelAlign":"center","labelBaseline":"bottom","labelPadding":1,"titlePadding":6}}}},
{"data":{"name":"price"},"transform":[{"filter":"datum.t >= 2015.526"}],"mark":{"type":"line","color":"black","strokeWidth":1.1},"encoding":{"x":{"field":"t","type":"quantitative","scale":{"domain":[2013.92,2016.08],"nice":false,"zero":false},"axis":{"title":"Time","values":[2014,2014.5,2015,2015.5,2016],"format":".1f","labelPadding":7.5,"titlePadding":9.7}},"y":{"field":"p","type":"quantitative","scale":{"domain":[1889,7228],"nice":false,"zero":false},"axis":{"title":"Price","values":[2000,3000,4000,5000,6000,7000],"format":"d","labelAngle":-90,"labelAlign":"center","labelBaseline":"bottom","labelPadding":1,"titlePadding":6}}}},
{"data":{"name":"curvesB"},"mark":{"type":"line","strokeWidth":1.3,"clip":true},"encoding":{"x":{"field":"t","type":"quantitative","scale":{"domain":[2013.92,2016.08],"nice":false,"zero":false},"axis":{"title":"Time","values":[2014,2014.5,2015,2015.5,2016],"format":".1f","labelPadding":7.5,"titlePadding":9.7}},"y":{"field":"p","type":"quantitative","scale":{"domain":[1889,7228],"nice":false,"zero":false},"axis":{"title":"Price","values":[2000,3000,4000,5000,6000,7000],"format":"d","labelAngle":-90,"labelAlign":"center","labelBaseline":"bottom","labelPadding":1,"titlePadding":6}},"detail":{"field":"id"},"color":{"field":"col","type":"nominal","scale":{"domain":["black","red","green3","blue","cyan","magenta","yellow","gray"],"range":["#000000","#FF0000","#00CD00","#0000FF","#00FFFF","#FF00FF","#FFFF00","#BEBEBE"]},"legend":null}}},
{"data":{"name":"lines"},"transform":[{"filter":"datum.panel=='b' && datum.kind!='median'"}],"mark":{"type":"rule","color":"black","strokeWidth":1.3},"encoding":{"x":{"field":"t","type":"quantitative","scale":{"domain":[2013.92,2016.08],"nice":false,"zero":false},"axis":{"title":"Time","values":[2014,2014.5,2015,2015.5,2016],"format":".1f","labelPadding":7.5,"titlePadding":9.7}}}},
{"data":{"name":"lines"},"transform":[{"filter":"datum.panel=='b' && datum.kind=='median'"}],"mark":{"type":"rule","color":"#FF0000","strokeWidth":1.3},"encoding":{"x":{"field":"t","type":"quantitative","scale":{"domain":[2013.92,2016.08],"nice":false,"zero":false},"axis":{"title":"Time","values":[2014,2014.5,2015,2015.5,2016],"format":".1f","labelPadding":7.5,"titlePadding":9.7}}}},
{"data":{"name":"notes"},"transform":[{"filter":"datum.panel=='b'"}],"mark":{"type":"text","align":"left","baseline":"alphabetic","fontSize":17.5,"font":"Liberation Sans","color":"black"},"encoding":{"x":{"field":"t","type":"quantitative","scale":{"domain":[2013.92,2016.08],"nice":false,"zero":false},"axis":{"title":"Time","values":[2014,2014.5,2015,2015.5,2016],"format":".1f","labelPadding":7.5,"titlePadding":9.7}},"y":{"field":"p","type":"quantitative","scale":{"domain":[1889,7228],"nice":false,"zero":false},"axis":{"title":"Price","values":[2000,3000,4000,5000,6000,7000],"format":"d","labelAngle":-90,"labelAlign":"center","labelBaseline":"bottom","labelPadding":1,"titlePadding":6}},"text":{"field":"label"}}}
]}
]
}
